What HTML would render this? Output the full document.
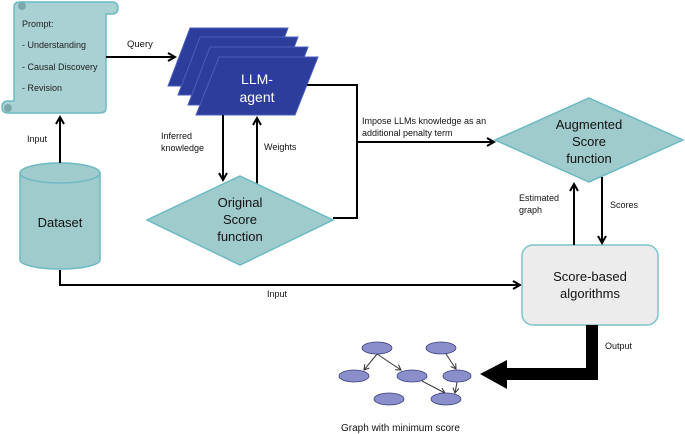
<!DOCTYPE html>
<html><head><meta charset="utf-8"><style>
html,body{margin:0;padding:0;background:#fff;}
svg{display:block;font-family:"Liberation Sans",Arial,sans-serif;}
</style></head><body>
<svg width="685" height="434" viewBox="0 0 685 434" xmlns="http://www.w3.org/2000/svg">
<defs>
<marker id="a" markerWidth="10" markerHeight="10" refX="8" refY="5" orient="auto" markerUnits="userSpaceOnUse">
<path d="M1,1 L8,5 L1,9" fill="none" stroke="#000" stroke-width="2"/></marker>
<marker id="s" markerWidth="8" markerHeight="8" refX="6" refY="4" orient="auto" markerUnits="userSpaceOnUse">
<path d="M1,1 L6,4 L1,7" fill="none" stroke="#333" stroke-width="1"/></marker>
</defs>
<!-- scroll -->
<path d="M14,7 Q14,2 20,2 L112,2 Q118,2 118,8 Q118,14 112,14 L106,14 L106,108 Q106,113 100,113 L8,113 Q2,113 2,107 Q2,101 8,101 L14,101 Z" fill="#a9d1d3" stroke="#6bbac2" stroke-width="1.5"/>
<circle cx="22" cy="6" r="4" fill="#7aa9ac"/>
<circle cx="8" cy="108" r="4" fill="#7aa9ac"/>
<g font-size="9" fill="#222">
<text x="22" y="27">Prompt:</text>
<text x="22" y="48">- Understanding</text>
<text x="22" y="70">- Causal Discovery</text>
<text x="22" y="91">- Revision</text>
</g>
<!-- query -->
<line x1="106" y1="57" x2="175" y2="57" stroke="#000" stroke-width="2" marker-end="url(#a)"/>
<text x="127" y="47" font-size="9.5" fill="#111">Query</text>
<!-- LLM stack -->
<g fill="#2c3d9c" stroke="#4a5fc0" stroke-width="1">
<polygon points="190,28 288,28 266,86 168,86"/>
<polygon points="200,37 298,37 276,95 178,95"/>
<polygon points="210,47 308,47 286,105 188,105"/>
<polygon points="219,57 318,57 295,115 196,115"/>
</g>
<text x="257" y="84" font-size="14" fill="#fff" text-anchor="middle">LLM-</text>
<text x="257" y="102" font-size="14" fill="#fff" text-anchor="middle">agent</text>
<!-- connectors -->
<polyline points="307,85 357,85 357,218 333,218" fill="none" stroke="#000" stroke-width="2"/>
<line x1="357" y1="142" x2="494" y2="142" stroke="#000" stroke-width="2" marker-end="url(#a)"/>
<text x="362" y="124" font-size="9" fill="#111">Impose LLMs knowledge as an</text>
<text x="362" y="136" font-size="9" fill="#111">additional penalty term</text>
<line x1="223" y1="115" x2="223" y2="180" stroke="#000" stroke-width="2" marker-end="url(#a)"/>
<line x1="257" y1="184" x2="257" y2="118" stroke="#000" stroke-width="2" marker-end="url(#a)"/>
<text x="161" y="139" font-size="9" fill="#111">Inferred</text>
<text x="161" y="151" font-size="9" fill="#111">knowledge</text>
<text x="264" y="150" font-size="9" fill="#111">Weights</text>
<!-- original diamond -->
<polygon points="240,176 333,220 240,265 147,220" fill="#a0cbcd" stroke="#6bbac2" stroke-width="1.5"/>
<g font-size="13" fill="#111" text-anchor="middle">
<text x="240" y="207">Original</text>
<text x="240" y="224">Score</text>
<text x="240" y="241">function</text>
</g>
<!-- augmented diamond -->
<polygon points="589,98 683,140 589,182 495,140" fill="#a0cbcd" stroke="#6bbac2" stroke-width="1.5"/>
<g font-size="13" fill="#111" text-anchor="middle">
<text x="589" y="129">Augmented</text>
<text x="589" y="146">Score</text>
<text x="589" y="163">function</text>
</g>
<!-- dataset -->
<path d="M20,173 L20,260 A40,9 0 0 0 100,260 L100,173" fill="#a0cbcd" stroke="#6bbac2" stroke-width="1.5"/>
<ellipse cx="60" cy="173" rx="40" ry="10" fill="#a0cbcd" stroke="#6bbac2" stroke-width="1.5"/>
<text x="60" y="227" font-size="13" fill="#111" text-anchor="middle">Dataset</text>
<line x1="60" y1="163" x2="60" y2="117" stroke="#000" stroke-width="2" marker-end="url(#a)"/>
<text x="27" y="142" font-size="9" fill="#111">Input</text>
<polyline points="60,270 60,285 520,285" fill="none" stroke="#000" stroke-width="2" marker-end="url(#a)"/>
<text x="267" y="297" font-size="9" fill="#111">Input</text>
<!-- score-based -->
<rect x="522" y="245" width="136" height="80" rx="11" fill="#ececec" stroke="#7cc4c9" stroke-width="1.5"/>
<text x="590" y="281" font-size="13" fill="#111" text-anchor="middle">Score-based</text>
<text x="590" y="298" font-size="13" fill="#111" text-anchor="middle">algorithms</text>
<line x1="574" y1="245" x2="574" y2="184" stroke="#000" stroke-width="2" marker-end="url(#a)"/>
<line x1="602" y1="177" x2="602" y2="243" stroke="#000" stroke-width="2" marker-end="url(#a)"/>
<text x="519" y="201" font-size="9" fill="#111">Estimated</text>
<text x="519" y="213" font-size="9" fill="#111">graph</text>
<text x="610" y="208" font-size="9" fill="#111">Scores</text>
<!-- output thick arrow -->
<polyline points="592,325 592,374 505,374" fill="none" stroke="#000" stroke-width="12"/>
<polygon points="480,374 507,360 507,389" fill="#000"/>
<text x="605" y="349" font-size="9" fill="#111">Output</text>
<!-- graph -->
<g stroke="#333" stroke-width="1" marker-end="url(#s)">
<line x1="377" y1="354" x2="364" y2="370"/>
<line x1="377" y1="354" x2="401" y2="370"/>
<line x1="446" y1="354" x2="456" y2="369"/>
<line x1="422" y1="381" x2="445" y2="393"/>
<line x1="457" y1="382" x2="455" y2="393"/>
</g>
<g fill="#8a8fcc" stroke="#3a3f7a" stroke-width="0.8">
<ellipse cx="377" cy="348" rx="15" ry="6"/>
<ellipse cx="441" cy="348" rx="15" ry="6"/>
<ellipse cx="354" cy="376" rx="15" ry="6"/>
<ellipse cx="412" cy="376" rx="15" ry="6"/>
<ellipse cx="457" cy="376" rx="14" ry="6"/>
<ellipse cx="389" cy="399" rx="15" ry="6"/>
<ellipse cx="446" cy="399" rx="15" ry="6"/>
</g>
<text x="341" y="431" font-size="10" fill="#111">Graph with minimum score</text>
</svg>
</body></html>
